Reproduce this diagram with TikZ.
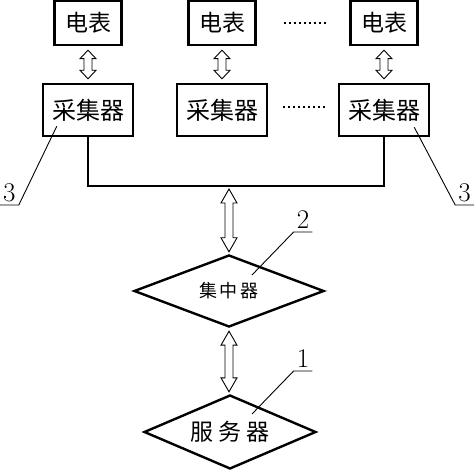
\documentclass[tikz,border=0pt]{standalone}
\usepackage{fontspec}
\newfontfamily\cjk{Noto Sans CJK SC}
\usetikzlibrary{shapes.geometric,calc}

\tikzset{
  unit/.style={draw, line width=2.4pt, inner sep=0pt, font=\cjk\fontsize{23}{23}\selectfont},
  hubshape/.style={draw, diamond, line width=2.4pt, inner sep=0pt, aspect=2.6},
  wayline/.style={line width=0.9pt, fill=white},
  bus/.style={line width=2.4pt},
  leader/.style={line width=0.9pt},
  tag/.style={inner xsep=3pt, inner ysep=3pt, font=\fontsize{27}{27}\selectfont},
  dots/.style={line width=2pt, dash pattern=on 2pt off 3pt},
}

% hollow two-way arrow, [#1] head length, #2 upper end, #3 lower end
\newcommand{\twoway}[3][14]{%
  \draw[wayline] (#2) -- ++(8,#1) -- ++(-4,0) -- ($(#2 |- #3)+(4,-#1)$) -- ++(4,0)
    -- (#2 |- #3) -- ++(-8,-#1) -- ++(4,0) -- ($(#2)+(-4,#1)$) -- ++(-4,0) -- cycle;}

\begin{document}
\begin{tikzpicture}[x=1pt,y=-1pt]
  \useasboundingbox (0,0) rectangle (474,470);
  \foreach \x [count=\n] in {88,222,384} {
    \node[unit, minimum width=67pt, minimum height=44pt] (m\n) at (\x,23) {电表};
    \node[unit, minimum width=90pt, minimum height=52pt,
          font=\cjk\fontsize{24}{24}\selectfont] (c\n) at (\x,110) {采集器};
  }
  \foreach \n in {1,2,3} {
    \path (m\n.south) ++(0,4) coordinate (t\n) (c\n.north) ++(0,-4) coordinate (b\n);
    \twoway[8.5]{t\n}{b\n}
  }
  \draw[dots] ([xshift=27pt]m2.east) -- ([xshift=-21pt]m3.west);
  \draw[dots] ([xshift=15pt,yshift=3pt]c2.east) -- ([xshift=-12pt,yshift=3pt]c3.west);

  % bus to the concentrator
  \draw[bus] (c1.south) -- ++(0,49) -| (c3.south);
  \coordinate (tap) at (229,189);

  \node[hubshape, minimum width=190pt, minimum height=72pt] (hub) at (229,291)
    {\cjk\fontsize{18}{18}\selectfont 集\hspace{3pt}中\hspace{3pt}器};
  \node[hubshape, minimum width=172pt, minimum height=74pt] (srv) at (230,432)
    {\cjk\fontsize{23}{23}\selectfont 服\hspace{5pt}务\hspace{5pt}器};

  \path (hub.north) ++(0,-2) coordinate (b4);
  \twoway{tap}{b4}
  \path (hub.south) ++(0,3) coordinate (t5) (srv.north) ++(0,-2) coordinate (b5);
  \twoway{t5}{b5}

  % part numbers
  \node[tag, anchor=south west] (n3a) at (0,205) {3};
  \draw[leader] (n3a.south west) -- (n3a.south east) -- ($(c1.south west)+(15,-11)$);
  \node[tag, anchor=south east] (n3b) at (474,205) {3};
  \draw[leader] (n3b.south east) -- (n3b.south west) -- ($(c3.south east)+(-16,-10)$);
  \node[tag, anchor=south] (n2) at (303,232) {2};
  \draw[leader] (n2.south east) -- (n2.south west) -- ($(hub.center)+(23,-16)$);
  \node[tag, anchor=south] (n1) at (303,371) {1};
  \draw[leader] (n1.south east) -- (n1.south west) -- ($(srv.center)+(22,-18)$);
\end{tikzpicture}
\end{document}
